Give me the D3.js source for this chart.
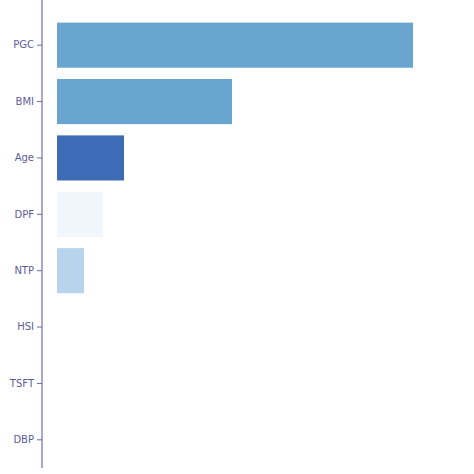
<!DOCTYPE html><html><head><script src="https://cdn.jsdelivr.net/npm/d3@7"></script>
<style>body{margin:0;background:#fff}</style></head><body><svg id="c" width="474" height="474"></svg>
<script>
const categories=["PGC","BMI","Age","DPF","NTP","HSI","TSFT","DBP"];
const values=[0.356,0.175,0.067,0.046,0.027,0,0,0];
const colors=["#68a5cf","#68a5cf","#3d6bb6","#f1f6fd","#b8d3ec","#fff","#fff","#fff"];
const svg=d3.select("#c");
const y=d3.scaleBand().domain(categories).range([17,468]).paddingInner(0.2).paddingOuter(0.1);
const x=d3.scaleLinear().domain([0,0.356]).range([57,413]);
svg.selectAll("rect").data(categories).join("rect")
 .attr("x",x(0)).attr("y",d=>y(d)).attr("height",y.bandwidth())
 .attr("width",(d,i)=>x(values[i])-x(0)).attr("fill",(d,i)=>colors[i]);
const g=svg.append("g").attr("transform","translate(42,0)").call(d3.axisLeft(y).tickSizeOuter(0).tickSize(5));
g.select(".domain").attr("stroke","#8a88c6").attr("d","M0,0V468").attr("stroke-width",1.5);
g.selectAll(".tick line").attr("stroke","#6b6aa8");
g.selectAll("text").attr("fill","#5d5c9a").attr("font-family","DejaVu Sans").attr("font-size",10);
</script></body></html>
